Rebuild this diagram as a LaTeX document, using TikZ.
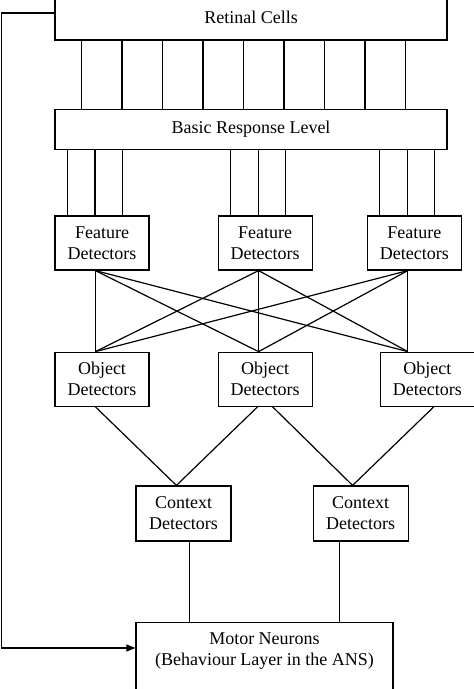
\documentclass[tikz,border=0pt]{standalone}
\usepackage{fontspec}
\setmainfont{Liberation Serif}
\usetikzlibrary{arrows.meta,positioning}

\begin{document}
\begin{tikzpicture}[
  x=1pt,y=-1pt,
  font=\fontsize{18pt}{21pt}\selectfont,
  line width=1.2pt,
  box/.style={draw,align=center,inner sep=0pt,minimum width=94pt,minimum height=54pt},
  arr/.style={-{Triangle[length=9pt,width=7pt]}}
]
\useasboundingbox (0,0) rectangle (474,689);
% layers
\node[box,minimum width=392pt,minimum height=46pt] (retina) at (251,17) {Retinal Cells};
\node[box,minimum width=392pt,minimum height=40pt,below=68pt of retina] (basic) {Basic Response Level};
\node[box] (fd1) at (102,243) {Feature\\Detectors};
\node[box,right=68pt of fd1] (fd2) {Feature\\Detectors};
\node[box,right=54pt of fd2] (fd3) {Feature\\Detectors};
\node[box,below=81pt of fd1] (od1) {Object\\Detectors};
\node[box,below=81pt of fd2] (od2) {Object\\Detectors};
\node[box,below=81pt of fd3,xshift=13pt] (od3) {Object\\Detectors};
\node[box,minimum width=95pt,minimum height=55pt] (cd1) at (183.5,513.5) {Context\\Detectors};
\node[box,minimum width=95pt,minimum height=55pt,right=81pt of cd1] (cd2) {Context\\Detectors};
\node[box,minimum width=257pt,inner ysep=11pt,below=80pt of cd1.south west,anchor=north west] (motor)
  {Motor Neurons\\(Behaviour Layer in the ANS)\\[30pt]~};
% retina -> basic
\foreach \i in {0,...,8}
  \draw ([xshift={27+40.5*\i}]retina.south west) -- ([xshift={27+40.5*\i}]basic.north west);
% basic -> features
\foreach \f in {fd1,fd2,fd3}
  \foreach \dx in {13,40.5,68}
    \draw ([xshift=\dx]\f.north west) -- ([xshift=\dx]\f.north west |- basic.south);
% features -> objects
\foreach \i in {1,2,3}
  \coordinate (fo\i) at ([xshift=41pt]fd\i.south west);
\foreach \i in {1,2,3}
  \foreach \j in {1,2,3}
    \draw (fo\i) -- (fo\j |- od\j.north);
% objects -> context
\draw ([xshift=41pt]od1.south west) -- ([xshift=41pt]cd1.north west);
\draw ([xshift=40pt]od2.south west) -- ([xshift=41pt]cd1.north west);
\draw ([xshift=55pt]od2.south west) -- ([xshift=40pt]cd2.north west);
\draw ([xshift=54pt]od3.south west) -- ([xshift=40pt]cd2.north west);
% context -> motor
\draw ([xshift=54pt]cd1.south west) -- ([xshift=54pt]cd1.south west |- motor.north);
\draw ([xshift=27pt]cd2.south west) -- ([xshift=27pt]cd2.south west |- motor.north);
% feedback
\coordinate (back) at (1.5,648);
\draw[arr] ([yshift=4pt]retina.west) -| (back) -- (back -| motor.west);
\end{tikzpicture}
\end{document}
